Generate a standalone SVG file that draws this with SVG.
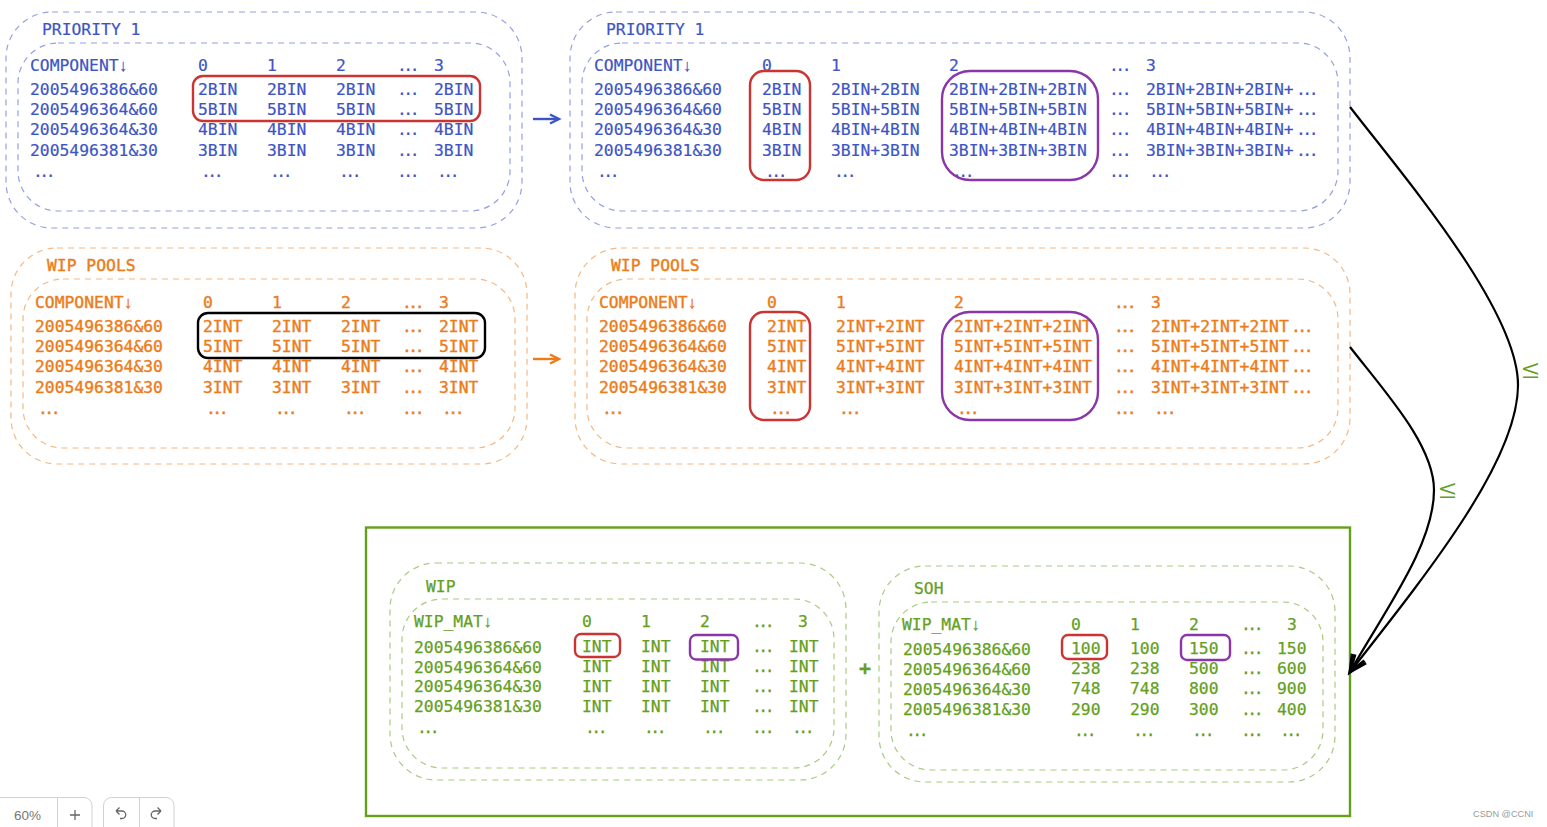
<svg xmlns="http://www.w3.org/2000/svg" width="1547" height="827" viewBox="0 0 1547 827">
<style>
text{font-family:"DejaVu Sans Mono",monospace;font-size:16.35px}
.b text{fill:#3d55c4;stroke:#3d55c4;stroke-width:.2}
.o text{fill:#ec7c1a;stroke:#ec7c1a;stroke-width:.4}
.g text{fill:#64a01e;stroke:#64a01e;stroke-width:.25}
text.d{letter-spacing:-3.5px;transform:translateX(-2px)}
tspan.a{font-family:"Liberation Mono",monospace}
text.vi{font-family:"Liberation Sans",sans-serif;font-size:22px;fill:#64a01e}
.db,.do,.dg{fill:none;stroke-width:1.2;stroke-dasharray:6 5;opacity:.75}
.db{stroke:#6f82d8}.do{stroke:#f2a056}.dg{stroke:#8cb858}
.sr,.sp,.sk{fill:none;stroke-width:2.4}
.sr{stroke:#cc3333}.sp{stroke:#8a35a8}.sk{stroke:#000}
.c{fill:none;stroke:#000;stroke-width:2.2}
.ui{fill:none;stroke:#d0d0d0;stroke-width:1}
.ic{fill:none;stroke:#666;stroke-width:1.3}
</style>
<defs>
<marker id="ah" markerUnits="userSpaceOnUse" markerWidth="26" markerHeight="26" refX="20" refY="10" orient="auto"><path d="M3 3L20 10L3 17" fill="none" stroke="#000" stroke-width="3"/></marker>
<marker id="ab" markerUnits="userSpaceOnUse" markerWidth="16" markerHeight="14" refX="12" refY="6" orient="auto"><path d="M3 1.500L12 6L3 10.500" fill="none" stroke="#3d55c4" stroke-width="2.400"/></marker>
<marker id="ao" markerUnits="userSpaceOnUse" markerWidth="16" markerHeight="14" refX="12" refY="6" orient="auto"><path d="M3 1.500L12 6L3 10.500" fill="none" stroke="#ec7c1a" stroke-width="2.400"/></marker>
</defs>
<rect width="1547" height="827" fill="#fff"/>

<g id="node-priority-a" class="b">
<rect class="db" x="6" y="12" width="516" height="216" rx="46"/>
<rect class="db" x="18" y="43" width="492" height="168" rx="40"/>
<text x="42" y="35">PRIORITY 1</text>
<text x="30" y="71">COMPONENT<tspan class="a">↓</tspan></text><text x="198" y="71">0</text><text x="267" y="71">1</text><text x="336" y="71">2</text><text class="d" x="399" y="71">...</text><text x="434" y="71">3</text>
<text x="30" y="95">2005496386&amp;60</text><text x="198" y="95">2BIN</text><text x="267" y="95">2BIN</text><text x="336" y="95">2BIN</text><text class="d" x="399" y="95">...</text><text x="434" y="95">2BIN</text>
<text x="30" y="115">2005496364&amp;60</text><text x="198" y="115">5BIN</text><text x="267" y="115">5BIN</text><text x="336" y="115">5BIN</text><text class="d" x="399" y="115">...</text><text x="434" y="115">5BIN</text>
<text x="30" y="135">2005496364&amp;30</text><text x="198" y="135">4BIN</text><text x="267" y="135">4BIN</text><text x="336" y="135">4BIN</text><text class="d" x="399" y="135">...</text><text x="434" y="135">4BIN</text>
<text x="30" y="156">2005496381&amp;30</text><text x="198" y="156">3BIN</text><text x="267" y="156">3BIN</text><text x="336" y="156">3BIN</text><text class="d" x="399" y="156">...</text><text x="434" y="156">3BIN</text>
<text class="d" x="35" y="177">...</text><text class="d" x="203" y="177">...</text><text class="d" x="272" y="177">...</text><text class="d" x="341" y="177">...</text><text class="d" x="399" y="177">...</text><text class="d" x="439" y="177">...</text>
<rect class="sr" x="193" y="76" width="287" height="45" rx="10"/>
</g>

<g id="node-priority-b" class="b">
<rect class="db" x="570" y="12" width="780" height="216" rx="46"/>
<rect class="db" x="582" y="43" width="756" height="168" rx="40"/>
<text x="606" y="35">PRIORITY 1</text>
<text x="594" y="71">COMPONENT<tspan class="a">↓</tspan></text><text x="762" y="71">0</text><text x="831" y="71">1</text><text x="949" y="71">2</text><text class="d" x="1111" y="71">...</text><text x="1146" y="71">3</text>
<text x="594" y="95">2005496386&amp;60</text><text x="762" y="95">2BIN</text><text x="831" y="95">2BIN+2BIN</text><text x="949" y="95">2BIN+2BIN+2BIN</text><text class="d" x="1111" y="95">...</text><text x="1146" y="95">2BIN+2BIN+2BIN+</text><text class="d" x="1298" y="95">...</text>
<text x="594" y="115">2005496364&amp;60</text><text x="762" y="115">5BIN</text><text x="831" y="115">5BIN+5BIN</text><text x="949" y="115">5BIN+5BIN+5BIN</text><text class="d" x="1111" y="115">...</text><text x="1146" y="115">5BIN+5BIN+5BIN+</text><text class="d" x="1298" y="115">...</text>
<text x="594" y="135">2005496364&amp;30</text><text x="762" y="135">4BIN</text><text x="831" y="135">4BIN+4BIN</text><text x="949" y="135">4BIN+4BIN+4BIN</text><text class="d" x="1111" y="135">...</text><text x="1146" y="135">4BIN+4BIN+4BIN+</text><text class="d" x="1298" y="135">...</text>
<text x="594" y="156">2005496381&amp;30</text><text x="762" y="156">3BIN</text><text x="831" y="156">3BIN+3BIN</text><text x="949" y="156">3BIN+3BIN+3BIN</text><text class="d" x="1111" y="156">...</text><text x="1146" y="156">3BIN+3BIN+3BIN+</text><text class="d" x="1298" y="156">...</text>
<text class="d" x="599" y="177">...</text><text class="d" x="767" y="177">...</text><text class="d" x="836" y="177">...</text><text class="d" x="954" y="177">...</text><text class="d" x="1111" y="177">...</text><text class="d" x="1151" y="177">...</text>
<rect class="sr" x="750" y="71" width="60" height="109" rx="14"/>
<rect class="sp" x="942" y="71" width="156" height="109" rx="28"/>
</g>

<g id="node-wip-pools-a" class="o">
<rect class="do" x="11" y="248" width="516" height="216" rx="46"/>
<rect class="do" x="23" y="279" width="492" height="169" rx="40"/>
<text x="47" y="271">WIP POOLS</text>
<text x="35" y="308">COMPONENT<tspan class="a">↓</tspan></text><text x="203" y="308">0</text><text x="272" y="308">1</text><text x="341" y="308">2</text><text class="d" x="404" y="308">...</text><text x="439" y="308">3</text>
<text x="35" y="332">2005496386&amp;60</text><text x="203" y="332">2INT</text><text x="272" y="332">2INT</text><text x="341" y="332">2INT</text><text class="d" x="404" y="332">...</text><text x="439" y="332">2INT</text>
<text x="35" y="352">2005496364&amp;60</text><text x="203" y="352">5INT</text><text x="272" y="352">5INT</text><text x="341" y="352">5INT</text><text class="d" x="404" y="352">...</text><text x="439" y="352">5INT</text>
<text x="35" y="372">2005496364&amp;30</text><text x="203" y="372">4INT</text><text x="272" y="372">4INT</text><text x="341" y="372">4INT</text><text class="d" x="404" y="372">...</text><text x="439" y="372">4INT</text>
<text x="35" y="393">2005496381&amp;30</text><text x="203" y="393">3INT</text><text x="272" y="393">3INT</text><text x="341" y="393">3INT</text><text class="d" x="404" y="393">...</text><text x="439" y="393">3INT</text>
<text class="d" x="40" y="414">...</text><text class="d" x="208" y="414">...</text><text class="d" x="277" y="414">...</text><text class="d" x="346" y="414">...</text><text class="d" x="404" y="414">...</text><text class="d" x="444" y="414">...</text>
<rect class="sk" x="198" y="313" width="287" height="45" rx="10"/>
</g>

<g id="node-wip-pools-b" class="o">
<rect class="do" x="575" y="248" width="775" height="216" rx="46"/>
<rect class="do" x="587" y="279" width="751" height="169" rx="40"/>
<text x="611" y="271">WIP POOLS</text>
<text x="599" y="308">COMPONENT<tspan class="a">↓</tspan></text><text x="767" y="308">0</text><text x="836" y="308">1</text><text x="954" y="308">2</text><text class="d" x="1116" y="308">...</text><text x="1151" y="308">3</text>
<text x="599" y="332">2005496386&amp;60</text><text x="767" y="332">2INT</text><text x="836" y="332">2INT+2INT</text><text x="954" y="332">2INT+2INT+2INT</text><text class="d" x="1116" y="332">...</text><text x="1151" y="332">2INT+2INT+2INT</text><text class="d" x="1293" y="332">...</text>
<text x="599" y="352">2005496364&amp;60</text><text x="767" y="352">5INT</text><text x="836" y="352">5INT+5INT</text><text x="954" y="352">5INT+5INT+5INT</text><text class="d" x="1116" y="352">...</text><text x="1151" y="352">5INT+5INT+5INT</text><text class="d" x="1293" y="352">...</text>
<text x="599" y="372">2005496364&amp;30</text><text x="767" y="372">4INT</text><text x="836" y="372">4INT+4INT</text><text x="954" y="372">4INT+4INT+4INT</text><text class="d" x="1116" y="372">...</text><text x="1151" y="372">4INT+4INT+4INT</text><text class="d" x="1293" y="372">...</text>
<text x="599" y="393">2005496381&amp;30</text><text x="767" y="393">3INT</text><text x="836" y="393">3INT+3INT</text><text x="954" y="393">3INT+3INT+3INT</text><text class="d" x="1116" y="393">...</text><text x="1151" y="393">3INT+3INT+3INT</text><text class="d" x="1293" y="393">...</text>
<text class="d" x="604" y="414">...</text><text class="d" x="772" y="414">...</text><text class="d" x="841" y="414">...</text><text class="d" x="959" y="414">...</text><text class="d" x="1116" y="414">...</text><text class="d" x="1156" y="414">...</text>
<rect class="sr" x="750" y="312" width="60" height="108" rx="14"/>
<rect class="sp" x="942" y="312" width="156" height="108" rx="28"/>
</g>

<g id="node-result-frame"><rect x="366" y="527.500" width="984" height="288.500" fill="none" stroke="#64a01e" stroke-width="2.400"/></g>

<g id="node-wip" class="g">
<rect class="dg" x="390" y="563" width="456" height="217" rx="46"/>
<rect class="dg" x="402" y="599" width="432" height="169" rx="40"/>
<text x="426" y="592">WIP</text>
<text x="414" y="627">WIP_MAT<tspan class="a">↓</tspan></text><text x="582" y="627">0</text><text x="641" y="627">1</text><text x="700" y="627">2</text><text class="d" x="754" y="627">...</text><text x="798" y="627">3</text>
<text x="414" y="653">2005496386&amp;60</text><text x="582" y="652">INT</text><text x="641" y="652">INT</text><text x="700" y="652">INT</text><text class="d" x="754" y="652">...</text><text x="789" y="652">INT</text>
<text x="414" y="673">2005496364&amp;60</text><text x="582" y="672">INT</text><text x="641" y="672">INT</text><text x="700" y="672">INT</text><text class="d" x="754" y="672">...</text><text x="789" y="672">INT</text>
<text x="414" y="692">2005496364&amp;30</text><text x="582" y="692">INT</text><text x="641" y="692">INT</text><text x="700" y="692">INT</text><text class="d" x="754" y="692">...</text><text x="789" y="692">INT</text>
<text x="414" y="712">2005496381&amp;30</text><text x="582" y="712">INT</text><text x="641" y="712">INT</text><text x="700" y="712">INT</text><text class="d" x="754" y="712">...</text><text x="789" y="712">INT</text>
<text class="d" x="419" y="733">...</text><text class="d" x="587" y="733">...</text><text class="d" x="646" y="733">...</text><text class="d" x="705" y="733">...</text><text class="d" x="754" y="733">...</text><text class="d" x="794" y="733">...</text>
<rect class="sr" x="575" y="634" width="45" height="23" rx="6"/>
<rect class="sp" x="690" y="635" width="48" height="24.500" rx="6"/>
</g>

<g id="node-plus" class="g"><text x="859" y="675" style="font-size:20px;font-weight:bold">+</text></g>

<g id="node-soh" class="g">
<rect class="dg" x="879" y="566" width="456" height="216" rx="46"/>
<rect class="dg" x="891" y="602" width="432" height="168" rx="40"/>
<text x="914" y="594">SOH</text>
<text x="902" y="630">WIP_MAT<tspan class="a">↓</tspan></text><text x="1071" y="630">0</text><text x="1130" y="630">1</text><text x="1189" y="630">2</text><text class="d" x="1243" y="630">...</text><text x="1287" y="630">3</text>
<text x="903" y="655">2005496386&amp;60</text><text x="1071" y="654">100</text><text x="1130" y="654">100</text><text x="1189" y="654">150</text><text class="d" x="1243" y="654">...</text><text x="1277" y="654">150</text>
<text x="903" y="675">2005496364&amp;60</text><text x="1071" y="674">238</text><text x="1130" y="674">238</text><text x="1189" y="674">500</text><text class="d" x="1243" y="674">...</text><text x="1277" y="674">600</text>
<text x="903" y="695">2005496364&amp;30</text><text x="1071" y="694">748</text><text x="1130" y="694">748</text><text x="1189" y="694">800</text><text class="d" x="1243" y="694">...</text><text x="1277" y="694">900</text>
<text x="903" y="715">2005496381&amp;30</text><text x="1071" y="715">290</text><text x="1130" y="715">290</text><text x="1189" y="715">300</text><text class="d" x="1243" y="715">...</text><text x="1277" y="715">400</text>
<text class="d" x="908" y="736">...</text><text class="d" x="1076" y="736">...</text><text class="d" x="1135" y="736">...</text><text class="d" x="1194" y="736">...</text><text class="d" x="1243" y="736">...</text><text class="d" x="1282" y="736">...</text>
<rect class="sr" x="1062" y="635" width="45" height="24" rx="6"/>
<rect class="sp" x="1181" y="635" width="49" height="25" rx="6"/>
</g>

<g id="connectors">
<path d="M533 119H559" fill="none" stroke="#3d55c4" stroke-width="2.400" marker-end="url(#ab)"/>
<path d="M533 359H559" fill="none" stroke="#ec7c1a" stroke-width="2.400" marker-end="url(#ao)"/>
<path class="c" d="M1350 107C1405 178 1518 310 1518 385C1518 460 1430 570 1350 672" marker-end="url(#ah)"/>
<path class="c" d="M1350 347C1385 392 1434 445 1434 490C1434 545 1385 610 1350 672" marker-end="url(#ah)"/>
<text class="vi" transform="translate(1523 363) rotate(90) scale(.8 1)">VI</text>
<text class="vi" transform="translate(1440 483) rotate(90) scale(.8 1)">VI</text>
</g>

<g id="toolbar">
<path class="ui" d="M0 797.500H84a8 8 0 0 1 8 8V827M57.500 797.500V827"/>
<path class="ui" d="M103.500 827V805.500a8 8 0 0 1 8-8H166a8 8 0 0 1 8 8V827M139.500 797.500V827"/>
<text x="14" y="820" style="font-family:'Liberation Sans',sans-serif;font-size:13.500px;fill:#777">60%</text>
<path class="ic" d="M70 815H80M75 810V820M116 811L119.500 814.500M116 811L119.500 807.500M116 811H122a3.200 3.200 0 0 1 0 7.500H120M161 811L157.500 814.500M161 811L157.500 807.500M161 811H155a3.200 3.200 0 0 0 0 7.500H157"/>
</g>
<text x="1473" y="817" style="font-family:'Liberation Sans',sans-serif;font-size:9.200px;fill:#9a9a9a">CSDN @CCNI</text>
</svg>
